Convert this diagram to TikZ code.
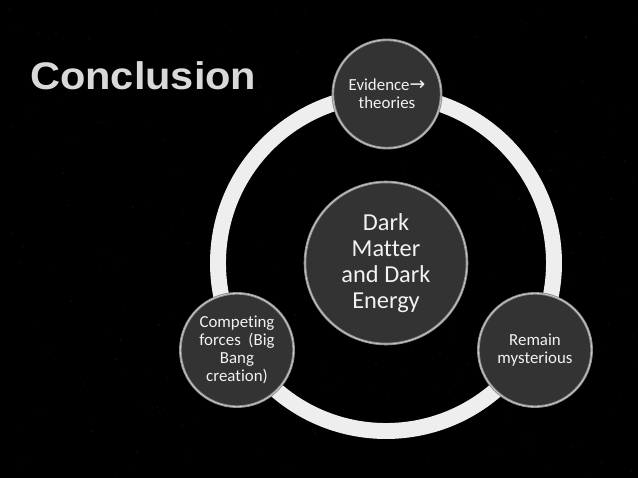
\documentclass[tikz,border=0pt]{standalone}
\usepackage{fontspec}
\setmainfont[Ligatures=NoCommon]{Carlito}
\newfontfamily\titlefont{Liberation Sans}
\newfontfamily\arrowfont{DejaVu Sans}
\usepackage{graphicx}
\definecolor{bubble}{HTML}{333333}
\definecolor{rim}{HTML}{8F8F8F}
\definecolor{ringc}{HTML}{EEEEEE}
\definecolor{txt}{HTML}{F2F2F2}
\definecolor{titlec}{HTML}{D9D9D9}
\begin{document}
\begin{tikzpicture}[x=0.03cm,y=-0.03cm,
  bubblebase/.style={circle,fill=bubble,draw=rim,line width=2.2pt,text=txt,align=center,inner sep=0pt,
     postaction={draw=gray!35,line width=0.5pt}},
  bigbubble/.style={bubblebase,minimum size=4.86cm,font=\fontsize{20.8}{22.4}\selectfont},
  smallbubble/.style={bubblebase,minimum size=3.4cm,font=\fontsize{14.4}{15.3}\selectfont},
  ringstyle/.style={draw=ringc,line width=13.6pt}]
\fill[black] (0,0) rectangle (638,478);
\useasboundingbox (0,0) rectangle (638,478);
% faint stars
\pgfmathsetseed{4711}
\foreach \i in {1,...,220}{
  \pgfmathsetmacro{\sx}{random(2,636)}
  \pgfmathsetmacro{\sy}{random(2,476)}
  \pgfmathsetmacro{\sg}{random(15,45)}
  \fill[white!\sg!black] (\sx,\sy) circle (0.45);
}
% title
\node[anchor=south west,inner sep=0pt,text=titlec] (title) at (30,90)
  {\resizebox{227\dimexpr0.85pt\relax}{28\dimexpr0.85pt\relax}{\titlefont\bfseries Conclusion}};
% ring
\coordinate (c) at (386,263);
\draw[ringstyle] (c) circle (168);
% central
\node[bigbubble] (center) at (386,263) {Dark\\Matter\\and Dark\\Energy};
\node[smallbubble,minimum size=3.25cm] (top) at (387,94) {Evidence{\arrowfont\fontsize{16}{15.3}\selectfont→}\\theories};
\node[smallbubble] (left) at (237,350) {Competing\\forces\ \ (Big\\Bang\\creation)};
\node[smallbubble] (right) at (535,350) {Remain\\mysterious};
\end{tikzpicture}
\end{document}
